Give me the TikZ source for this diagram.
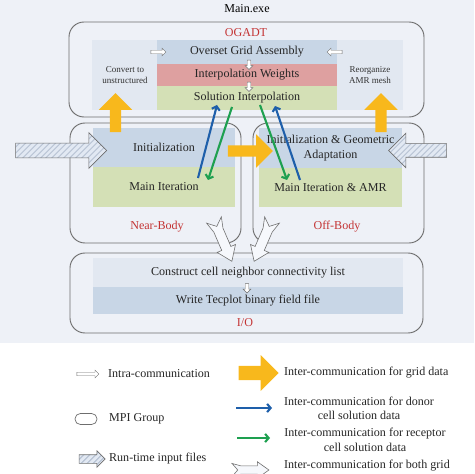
\documentclass[tikz,border=0pt]{standalone}
\usepackage{fontspec}
\setmainfont{Liberation Serif}
\usetikzlibrary{shapes.arrows, arrows.meta, patterns.meta, positioning}

\definecolor{bgcol}{RGB}{238,241,247}
\definecolor{panelcol}{RGB}{226,232,241}
\definecolor{pblue}{RGB}{200,214,230}
\definecolor{pred}{RGB}{222,160,160}
\definecolor{pgreen}{RGB}{212,224,182}
\definecolor{lblred}{RGB}{196,52,52}
\definecolor{gridgold}{RGB}{248,184,28}
\definecolor{donorblue}{RGB}{30,95,170}
\definecolor{recgreen}{RGB}{30,160,80}
\definecolor{edgegray}{RGB}{110,110,110}
\definecolor{hatchbg}{RGB}{226,233,243}
\definecolor{hatchln}{RGB}{188,199,215}
\definecolor{bothfill}{RGB}{246,248,252}

\tikzset{
  bothgrid/.pic={
    \draw[edgegray, fill=bothfill, line width=0.5pt, line join=miter]
      (0,8) -- (7,0) -- (0,-8) -- (11,-5) -- (31,-5) -- (31,-10) -- (45,0)
      -- (31,10) -- (31,5) -- (11,5) -- cycle;
  }
}

\begin{document}
\begin{tikzpicture}[
  x=0.3mm, y=0.3mm,
  font=\fontsize{10.3}{12.4}\selectfont,
  group/.style={draw=edgegray, line width=0.8pt, rounded corners=4.5mm, inner sep=0pt},
  panel/.style={inner sep=0pt, text=black!85, align=center},
  grouplbl/.style={text=lblred},
  note/.style={font=\fontsize{7.7}{9.4}\selectfont, align=center, text=black!80},
  flowarr/.style={single arrow, draw=edgegray, fill=white, line width=0.4pt,
                  inner sep=1.3pt, single arrow head extend=1.8pt, minimum height=4.5mm},
  gridarr/.style={single arrow, fill=gridgold, inner sep=1.65mm,
                  single arrow head extend=3.3mm},
  inputarr/.style={single arrow, draw=edgegray, line width=0.5pt, preaction={fill=hatchbg},
                   pattern={Lines[angle=45,distance=4pt,line width=1.4pt]}, pattern color=hatchln,
                   inner sep=1.95mm, single arrow head extend=3.15mm},
  donor/.style={donorblue, line width=1.8pt, -{Straight Barb[length=3pt,width=7pt]}},
  receptor/.style={recgreen, line width=1.8pt, -{Straight Barb[length=3pt,width=7pt]}},
  legtext/.style={anchor=west, text=black!85},
]
  \useasboundingbox (0,0) rectangle (474,-474);
  \clip (0,0) rectangle (474,-474);
  \fill[bgcol] (0,0) rectangle (474,-343);

  \node (title) at (247,-9) {Main.exe};

  % MPI groups
  \node[group, minimum width=106.5mm, minimum height=28.5mm] (ogadt) at (246.5,-69.5) {};
  \node[group, minimum width=51.3mm, minimum height=36mm] (near) at (155.5,-183) {};
  \node[group, minimum width=51.3mm, minimum height=36mm] (off) at (338.5,-183) {};
  \node[group, minimum width=105.9mm, minimum height=24mm] (io) at (246.5,-293) {};

  % OGADT
  \node[panel, fill=panelcol, minimum width=93.3mm, minimum height=21mm] (ogpanel) at (247.5,-75) {};
  \node[panel, fill=pblue, minimum width=54mm, minimum height=7.2mm] (oga) at (247,-52) {Overset Grid Assembly};
  \node[panel, fill=pred, minimum width=54mm, minimum height=6.6mm] (ipw) at (247,-75) {Interpolation Weights};
  \node[panel, fill=pgreen, minimum width=54mm, minimum height=7.2mm] (sol) at (247,-98) {Solution Interpolation};
  \node[note] (conv) at (125,-75) {Convert to\\unstructured};
  \node[note] (reorg) at (370,-75) {Reorganize\\AMR mesh};
  \node[grouplbl] (ogadtlbl) at (246,-33) {OGADT};
  \node[flowarr] (convarr) at (157.5,-52) {};
  \node[flowarr, shape border rotate=180] (reorgarr) at (335.5,-52) {};
  \node[flowarr, shape border rotate=270, minimum height=2.8mm] (ogaipw) at (249,-64) {};
  \node[flowarr, shape border rotate=270, minimum height=2.8mm] (ipwsol) at (249,-86) {};

  % Near-Body
  \node[panel, fill=pblue, minimum width=42.6mm, minimum height=11.7mm] (nbinit) at (164,-147.5) {Initialization};
  \node[panel, fill=pgreen, minimum width=42.6mm, minimum height=12mm] (nbmain) at (164,-187) {Main Iteration};
  \node[grouplbl] (nearlbl) at (157,-227) {Near-Body};

  % Off-Body
  \node[panel, fill=pblue, minimum width=42.9mm, minimum height=12mm] (obinit) at (330.5,-148) {Initialization \& Geometric\\Adaptation};
  \node[panel, fill=pgreen, minimum width=42.9mm, minimum height=11.7mm] (obmain) at (330.5,-187.5) {Main Iteration \& AMR};
  \node[grouplbl] (offlbl) at (337,-227) {Off-Body};

  % I/O
  \node[panel, fill=panelcol, minimum width=93mm, minimum height=8.7mm] (cnc) at (248,-272.5) {Construct cell neighbor connectivity list};
  \node[panel, fill=pblue, minimum width=93mm, minimum height=8.1mm] (wtp) at (248,-300.5) {Write Tecplot binary field file};
  \node[flowarr, shape border rotate=270, minimum height=2.8mm] (cncwtp) at (247,-287.5) {};
  \node[grouplbl] (iolbl) at (245,-323) {I/O};

  % run-time input
  \node[inputarr, minimum height=27.3mm] (nbinput) at (57.5,-150.5) {};
  \node[inputarr, shape border rotate=180, minimum height=17.4mm] (obinput) at (421,-150.5) {};

  % grid data
  \node[gridarr, shape border rotate=90, minimum height=11.7mm] (nbgrid) at (115.5,-115.5) {};
  \node[gridarr, shape border rotate=90, minimum height=11.7mm] (obgrid) at (381,-115.5) {};
  \node[gridarr, minimum height=13.5mm] (nbob) at (247.5,-151) {};

  % solution data
  \coordinate (nbdonor) at (198,-178);
  \coordinate (soldonorL) at (217,-105);
  \coordinate (solrecL) at (232,-107);
  \coordinate (nbrec) at (208,-180);
  \coordinate (solrecR) at (260,-105);
  \coordinate (obrec) at (287,-180);
  \coordinate (obdonor) at (300,-180);
  \coordinate (soldonorR) at (275,-106);
  \draw[donor] (nbdonor) -- (soldonorL);
  \draw[receptor] (solrecL) -- (nbrec);
  \draw[receptor] (solrecR) -- (obrec);
  \draw[donor] (obdonor) -- (soldonorR);

  % both grid and solution to I/O
  \pic[rotate=-66.6] at (214,-220) {bothgrid};
  \pic[rotate=-113.4] at (272,-220) {bothgrid};

  % legend
  \node[flowarr, minimum height=6.6mm] (legintra) at (87,-374) {};
  \node[legtext] (legintratxt) at (104,-374) {Intra-communication};
  \node[draw=edgegray, line width=0.6pt, fill=white, rounded corners=1.6mm,
        minimum width=6.6mm, minimum height=3.3mm, inner sep=0pt] (legmpi) at (86,-419) {};
  \node[legtext] (legmpitxt) at (105,-419) {MPI Group};
  \node[inputarr, inner sep=1.2mm, single arrow head extend=1.2mm, minimum height=7.8mm] (leginput) at (90,-459) {};
  \node[legtext] (leginputtxt) at (105,-459) {Run-time input files};

  \node[gridarr, inner sep=2.1mm, single arrow head extend=3.2mm, minimum height=12mm] (leggrid) at (255,-373) {};
  \node[legtext] (leggridtxt) at (280,-373) {Inter-communication for grid data};
  \coordinate (legdonorA) at (236,-408);
  \coordinate (legdonorB) at (272,-408);
  \draw[donor] (legdonorA) -- (legdonorB);
  \node[text=black!85, align=center] (legdonortxt) at (359,-408.5) {Inter-communication for donor\\cell solution data};
  \coordinate (legrecA) at (237,-438);
  \coordinate (legrecB) at (270,-438);
  \draw[receptor] (legrecA) -- (legrecB);
  \node[text=black!85, align=center] (legrectxt) at (365,-440) {Inter-communication for receptor\\cell solution data};
  \pic[scale=0.82] at (232,-470) {bothgrid};
  \node[legtext] (legbothtxt) at (280,-466) {Inter-communication for both grid};
\end{tikzpicture}
\end{document}
